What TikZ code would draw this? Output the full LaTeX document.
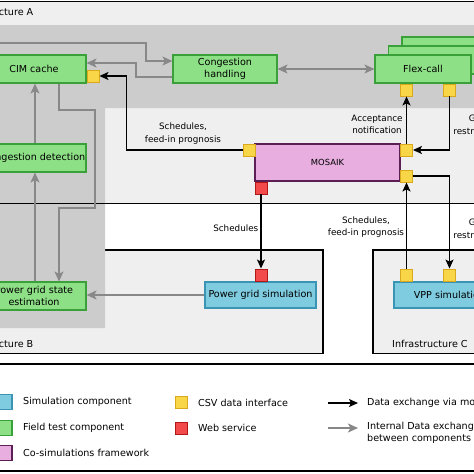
\documentclass[tikz,border=0pt]{standalone}
\usepackage{fontspec}
\setmainfont{DejaVu Sans}
\usetikzlibrary{arrows.meta,calc}
\definecolor{gfill}{RGB}{142,224,134}
\definecolor{gdraw}{RGB}{58,160,58}
\definecolor{bfill}{RGB}{127,203,223}
\definecolor{bdraw}{RGB}{60,148,180}
\definecolor{pfill}{RGB}{232,174,224}
\definecolor{pdraw}{RGB}{92,31,85}
\definecolor{yfill}{RGB}{249,213,72}
\definecolor{ydraw}{RGB}{217,168,28}
\definecolor{rfill}{RGB}{242,74,74}
\definecolor{rdraw}{RGB}{176,24,24}
\definecolor{lightbg}{RGB}{239,239,239}
\definecolor{darkbg}{RGB}{204,204,204}
\definecolor{garr}{RGB}{136,136,136}
\newcommand{\fmain}{\fontsize{9.6}{11.8}\selectfont}
\newcommand{\flab}{\fontsize{8.8}{12.5}\selectfont}
\newcommand{\fmos}{\fontsize{8.4}{10}\selectfont}
\tikzset{
  box/.style={line width=1.1pt, inner sep=0pt, align=center, font=\fmain, minimum height=28},
  fieldbox/.style={box, draw=gdraw, fill=gfill},
  simbox/.style={box, draw=bdraw, fill=bfill, minimum height=26, minimum width=111},
  mosbox/.style={box, draw=pdraw, fill=pfill, font=\fmos},
  csv/.style={draw=ydraw, fill=yfill, line width=0.9pt, minimum size=12, inner sep=0pt},
  web/.style={draw=rdraw, fill=rfill, line width=0.9pt, minimum size=12, inner sep=0pt},
  garrow/.style={draw=garr, line width=1.6pt, -{Stealth[length=10pt,width=9pt,inset=2.5pt]}},
  gdarrow/.style={draw=garr, line width=1.6pt, {Stealth[length=10pt,width=9pt,inset=2.5pt]}-{Stealth[length=10pt,width=9pt,inset=2.5pt]}},
  barrow/.style={draw=black, line width=1.2pt, -{Stealth[length=9pt,width=8pt,inset=2pt]}},
  lab/.style={font=\flab, align=center, inner sep=0pt},
  legtext/.style={font=\fmain, anchor=west, inner sep=0pt, align=left},
  infra/.style={draw=black, fill=lightbg, line width=1.3pt},
}
\begin{document}
\begin{tikzpicture}[x=1pt,y=-1pt]
\useasboundingbox (0,0) rectangle (474,474);
\clip (0,0) rectangle (474,474);
\fill[white] (0,0) rectangle (474,474);
% infrastructure regions
\draw[infra] (-10,1.5) rectangle (484,203.5);
\draw[infra] (-10,250) rectangle (323,353.5);
\draw[infra] (373,250) rectangle (484,353.5);
\fill[darkbg] (-10,25) -- (484,25) -- (484,108) -- (105,108) -- (105,328) -- (-10,328) -- cycle;
\draw[black,line width=1.3pt] (-10,203.5) -- (484,203.5);
\node[font=\fmain, anchor=base east, inner sep=0pt] (infA) at (33.5,15) {Infrastructure A};
\node[font=\fmain, anchor=base east, inner sep=0pt] (infB) at (33.5,347) {Infrastructure B};
\node[font=\fmain, anchor=base west, inner sep=0pt] (infC) at (392,347) {Infrastructure C};
% legend frame
\draw[black, fill=white, line width=2pt] (-10,364) rectangle (484,471);

% field test components
\node[fieldbox, minimum width=104] (cim) at (34,69) {CIM cache};
\node[fieldbox, minimum width=104] (cgh) at (225,69) {Congestion\\handling};
\node[fieldbox, minimum width=96] (flexc) at (450,51) {};
\node[fieldbox, minimum width=96] (flexb) at (436.5,60) {};
\node[fieldbox, minimum width=96] (flex) at (423,69) {Flex-call};
\node[fieldbox, minimum width=104] (cdet) at (34,158) {Congestion detection};
\node[fieldbox, minimum width=104] (pgse) at (34,296) {Power grid state\\estimation};
% co-simulation framework
\node[mosbox, minimum width=145, minimum height=37] (mos) at (327.5,162.5) {MOSAIK};
% simulation components
\node[simbox] (pgs) at (260.5,295) {Power grid simulation};
\node[simbox] (vpp) at (449.5,295) {VPP simulation};
% interfaces
\node[csv] (ycim) at (93,76) {};
\node[csv] (ymosL) at (249,150) {};
\node[csv] (ymosR1) at (406.5,150) {};
\node[csv] (ymosR2) at (406.5,176) {};
\node[web] (rmos) at (261,188) {};
\node[csv] (yflex1) at (406.5,90) {};
\node[csv] (yflex2) at (449.5,90) {};
\node[web] (rpgs) at (261,275) {};
\node[csv] (yvpp1) at (406.5,275) {};
\node[csv] (yvpp2) at (449.5,275) {};

% gray internal connectors
\coordinate (gin) at (-12,43);
\draw[garrow] (gin) -- (146,43) |- ($(cgh.west)+(0,-8)$);
\draw[garrow] ($(cgh.west)+(0,8)$) -| (136,63) -- ($(cim.east)+(0,-6)$);
\draw[gdarrow] (cgh.east) -- (flex.west);
\draw[garrow] ($(cim.south)+(25,0)$) -- (59,110) -- (95,110) -- (95,208) -- (59,208) -- ($(pgse.north)+(25,0)$);
\draw[garrow] ($(pgse.north)+(1,0)$) -- ($(cdet.south)+(1,0)$);
\draw[garrow] ($(cdet.north)+(1,0)$) -- ($(cim.south)+(1,0)$);
\draw[garrow] (pgs.west) -- (pgs.west -| pgse.east);

% black mosaik connectors
\draw[barrow] (ymosL.west) -| ($(ycim.east)+(27,0)$) -- (ycim.east);
\node[lab] (l1) at (183,133.5) {Schedules,\\feed-in prognosis};
\draw[barrow] (ymosR1.north) -- (yflex1.south);
\node[lab] (l2) at (377,124.5) {Acceptance\\notification};
\draw[barrow] (yflex2.south) |- (ymosR1.east);
\node[lab] (l3) at (478,124.5) {Grid\\restrictions};
\draw[barrow] (ymosR2.east) -| (yvpp2.north);
\node[lab] (l4) at (478,228.5) {Grid\\restrictions};
\draw[barrow] (yvpp1.north) -- (ymosR2.south);
\node[lab] (l5) at (366,227) {Schedules,\\feed-in prognosis};
\draw[barrow] (rmos.south) -- (rpgs.north);
\node[lab, anchor=east] (l6) at (258.5,228) {Schedules};

% legend
\node[box, draw=bdraw, fill=bfill, minimum width=15, minimum height=15] (lsim) at (4.5,402) {};
\node[box, draw=gdraw, fill=gfill, minimum width=15, minimum height=15] (lfield) at (4.5,428) {};
\node[box, draw=pdraw, fill=pfill, minimum width=15, minimum height=15] (lmos) at (4.5,453) {};
\node[legtext] (tsim) at (23,402) {Simulation component};
\node[legtext] (tfield) at (23,428) {Field test component};
\node[legtext] (tmos) at (23,453) {Co-simulations framework};
\node[csv] (lcsv) at (181.5,402.5) {};
\node[web] (lweb) at (181.5,428) {};
\node[legtext] (tcsv) at (198,403) {CSV data interface};
\node[legtext] (tweb) at (198,428) {Web service};
\coordinate (la1) at (328,403);
\coordinate (la2) at (358,403);
\coordinate (lg1) at (328,428);
\coordinate (lg2) at (358,428);
\draw[barrow] (la1) -- (la2);
\draw[garrow] (lg1) -- (lg2);
\node[legtext] (tblack) at (367,403) {Data exchange via mosaik};
\node[legtext, anchor=north west] (tgray) at (367,422) {Internal Data exchange\\between components};
\end{tikzpicture}
\end{document}
